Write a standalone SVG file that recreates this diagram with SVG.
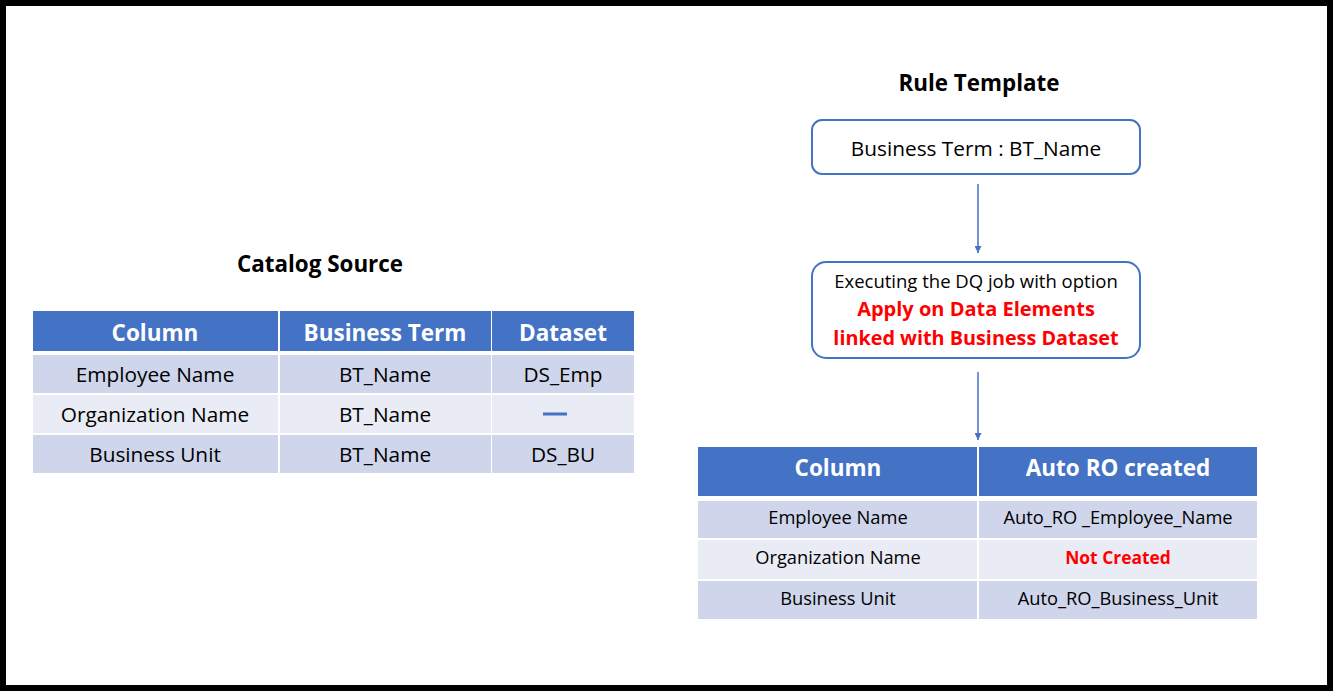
<svg xmlns="http://www.w3.org/2000/svg" width="1333" height="691" viewBox="0 0 1333 691">
<style>
text{font-family:"Open Sans","Liberation Sans",Arial,sans-serif;text-anchor:middle}
.title{font-size:22.4px;font-weight:bold;fill:#000}
.hd{fill:#4472C4}
.hdt{font-size:22.5px;font-weight:bold;fill:#fff}
.r1{fill:#CFD5EA}
.r2{fill:#E9EBF5}
.lt{font-size:20.8px;fill:#000}
.rt{font-size:18.3px;fill:#000}
.box{fill:#fff;stroke:#4472C4;stroke-width:2}
.red{fill:#FF0000;font-weight:bold}
.conn{stroke:#4472C4;stroke-width:1.5;fill:none}
</style>
<defs>
<marker id="ah" viewBox="0 0 10 10" refX="10" refY="5" markerWidth="7" markerHeight="7" markerUnits="userSpaceOnUse" orient="auto">
<path d="M0,0 L10,5 L0,10 z" fill="#4472C4"/>
</marker>
</defs>
<rect x="0" y="0" width="1333" height="691" fill="#fff"/>
<rect x="3" y="3" width="1327" height="685" fill="none" stroke="#000" stroke-width="6"/>

<g id="catalog-title"><text class="title" x="320" y="272">Catalog Source</text></g>
<g id="catalog-table">
<rect class="hd" x="33" y="311" width="245" height="40"/>
<rect class="hd" x="280" y="311" width="211" height="40"/>
<rect class="hd" x="492" y="311" width="142" height="40"/>
<text class="hdt" x="155" y="341">Column</text>
<text class="hdt" x="385" y="341">Business Term</text>
<text class="hdt" x="563" y="341">Dataset</text>
<rect class="r1" x="33" y="355" width="245" height="38"/>
<rect class="r1" x="280" y="355" width="211" height="38"/>
<rect class="r1" x="492" y="355" width="142" height="38"/>
<text class="lt" x="155" y="382">Employee Name</text>
<text class="lt" x="385" y="382">BT_Name</text>
<text class="lt" x="563" y="382">DS_Emp</text>
<rect class="r2" x="33" y="395" width="245" height="38"/>
<rect class="r2" x="280" y="395" width="211" height="38"/>
<rect class="r2" x="492" y="395" width="142" height="38"/>
<text class="lt" x="155" y="422">Organization Name</text>
<text class="lt" x="385" y="422">BT_Name</text>
<line x1="543" y1="414" x2="567" y2="414" stroke="#4472C4" stroke-width="3"/>
<rect class="r1" x="33" y="435" width="245" height="38"/>
<rect class="r1" x="280" y="435" width="211" height="38"/>
<rect class="r1" x="492" y="435" width="142" height="38"/>
<text class="lt" x="155" y="462">Business Unit</text>
<text class="lt" x="385" y="462">BT_Name</text>
<text class="lt" x="563" y="462">DS_BU</text>
</g>

<g id="rule-title"><text class="title" x="979" y="91">Rule Template</text></g>
<g id="node-business-term">
<rect class="box" x="812" y="120" width="328" height="54" rx="10"/>
<text class="lt" x="976" y="156">Business Term : BT_Name</text>
</g>
<g id="node-executing">
<rect class="box" x="812" y="262" width="328" height="96" rx="14"/>
<text x="976" y="288" style="font-size:18.5px;fill:#000">Executing the DQ job with option</text>
<text class="red" x="976" y="316" style="font-size:20px">Apply on Data Elements</text>
<text class="red" x="976" y="345" style="font-size:19.8px">linked with Business Dataset</text>
</g>

<g id="connectors">
<line class="conn" x1="978" y1="184" x2="978" y2="253" marker-end="url(#ah)"/>
<line class="conn" x1="978" y1="372" x2="978" y2="440" marker-end="url(#ah)"/>
</g>

<g id="result-table">
<rect class="hd" x="698" y="447" width="279" height="49"/>
<rect class="hd" x="979" y="447" width="278" height="49"/>
<text class="hdt" x="838" y="476">Column</text>
<text class="hdt" x="1118" y="476">Auto RO created</text>
<rect class="r1" x="698" y="501" width="279" height="37"/>
<rect class="r1" x="979" y="501" width="278" height="37"/>
<text class="rt" x="838" y="524">Employee Name</text>
<text class="rt" x="1118" y="524">Auto_RO _Employee_Name</text>
<rect class="r2" x="698" y="540" width="279" height="39"/>
<rect class="r2" x="979" y="540" width="278" height="39"/>
<text class="rt" x="838" y="564">Organization Name</text>
<text class="rt red" x="1118" y="564" style="font-size:17.4px">Not Created</text>
<rect class="r1" x="698" y="581" width="279" height="38"/>
<rect class="r1" x="979" y="581" width="278" height="38"/>
<text class="rt" x="838" y="605">Business Unit</text>
<text class="rt" x="1118" y="605">Auto_RO_Business_Unit</text>
</g>
</svg>
